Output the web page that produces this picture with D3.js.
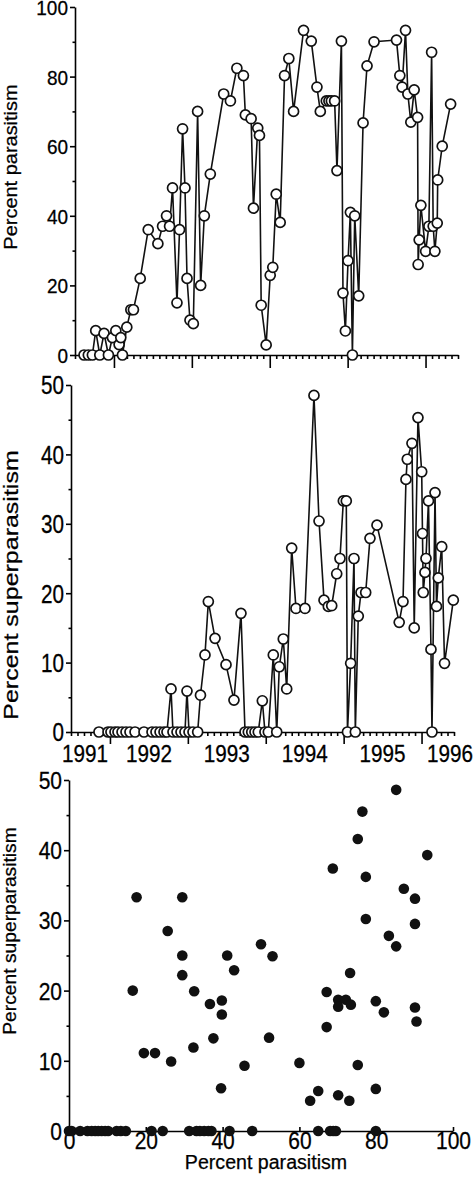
<!DOCTYPE html>
<html lang="en">
<head>
<meta charset="utf-8">
<title>Parasitism and superparasitism 1991-1996</title>
<script src="https://cdn.jsdelivr.net/npm/d3@7"></script>
<style>
	body { margin: 0; background: #fff; }
	svg { display: block; }
	svg text { stroke: #000; stroke-width: 0.25; }
	.trace { stroke: #111; stroke-width: 1.6; fill: none; }
	.ring { stroke: #111; stroke-width: 1.7; fill: #fff; }
	.dot { fill: #111; }
</style>
</head>
<body>
<svg id="fig" width="474" height="1191"></svg>
<script>

// sampling dates (decimal year) and percent parasitism, top panel
var parDate = [1991.616, 1991.671, 1991.723, 1991.766, 1991.818, 1991.873, 1991.929, 1991.98, 1992.024, 1992.066,
	1992.088, 1992.109, 1992.165, 1992.217, 1992.25, 1992.337, 1992.44, 1992.564, 1992.624, 1992.675,
	1992.714, 1992.752, 1992.809, 1992.842, 1992.881, 1992.912, 1992.938, 1992.976, 1993.019, 1993.074,
	1993.113, 1993.16, 1993.237, 1993.409, 1993.495, 1993.578, 1993.662, 1993.687, 1993.761, 1993.791,
	1993.846, 1993.868, 1993.89, 1993.954, 1994.006, 1994.039, 1994.083, 1994.134, 1994.19, 1994.245,
	1994.306, 1994.434, 1994.533, 1994.606, 1994.649, 1994.726, 1994.76, 1994.791, 1994.833, 1994.863,
	1994.92, 1994.94, 1994.971, 1995.005, 1995.035, 1995.061, 1995.091, 1995.142, 1995.198, 1995.249,
	1995.339, 1995.627, 1995.67, 1995.699, 1995.743, 1995.773, 1995.811, 1995.854, 1995.898, 1995.905,
	1995.918, 1995.94, 1996.001, 1996.043, 1996.078, 1996.098, 1996.12, 1996.15, 1996.156, 1996.214,
	1996.322]
var parPct = [0, 0, 0, 7, 0, 6.2, 0, 5, 7, 3,
	5, 0, 8, 13, 13, 22, 36, 32, 37, 40,
	37, 48, 15, 36, 65, 48, 22, 10, 9, 70,
	20, 40, 52, 75, 73, 82.4, 80.3, 69, 67.9, 42.2,
	65.2, 63.1, 14.3, 2.9, 22.9, 25.2, 46.2, 38.1, 80.3, 85.2,
	70, 93.3, 90.2, 77, 70, 73, 73, 73, 73, 53,
	90.2, 17.8, 6.9, 27.1, 41, 0, 40, 17, 66.7, 83.1,
	90, 90.5, 80.3, 77, 93.3, 75, 66.9, 76.2, 68.3, 26,
	33.1, 43, 29.8, 37, 87, 37, 29.8, 37.9, 50.3, 60,
	72.1]

// sampling dates and percent superparasitism, middle panel
var supDate = [1991.859, 1991.975, 1992.013, 1992.065, 1992.103, 1992.155, 1992.206, 1992.257, 1992.322, 1992.437,
	1992.54, 1992.591, 1992.643, 1992.694, 1992.732, 1992.784, 1992.809, 1992.861, 1992.912, 1992.963,
	1992.989, 1993.015, 1993.066, 1993.126, 1993.162, 1993.22, 1993.263, 1993.349, 1993.49, 1993.592,
	1993.682, 1993.734, 1993.776, 1993.82, 1993.862, 1993.904, 1993.956, 1993.99, 1994.033, 1994.097,
	1994.141, 1994.174, 1994.225, 1994.269, 1994.333, 1994.388, 1994.504, 1994.619, 1994.684, 1994.748,
	1994.803, 1994.847, 1994.911, 1994.953, 1994.996, 1995.034, 1995.049, 1995.09, 1995.133, 1995.15,
	1995.188, 1995.223, 1995.283, 1995.338, 1995.428, 1995.713, 1995.762, 1995.8, 1995.817, 1995.877,
	1995.906, 1995.954, 1996.002, 1996.012, 1996.022, 1996.044, 1996.057, 1996.089, 1996.121, 1996.134,
	1996.173, 1996.192, 1996.215, 1996.259, 1996.295, 1996.408]
var supPct = [0, 0, 0, 0, 0, 0, 0, 0, 0, 0,
	0, 0, 0, 0, 0, 6.2, 0, 0, 0, 0,
	5.9, 0, 0, 0, 5.3, 11.1, 18.8, 13.5, 9.7, 4.6,
	17.1, 0, 0, 0, 0, 0, 4.5, 0, 0, 11.1,
	0, 9.4, 13.4, 6.2, 26.5, 17.8, 17.8, 48.5, 30.4, 19,
	18.1, 18.2, 22.8, 25, 33.3, 33.3, 0, 9.9, 25, 0,
	16.7, 20.1, 20.1, 27.9, 29.8, 15.8, 18.8, 36.4, 39.3, 41.6,
	15, 45.3, 37.5, 28.6, 20.1, 23, 25, 33.3, 11.9, 0,
	34.5, 18.1, 22.2, 26.7, 9.9, 19]

// bottom panel: percent parasitism (x) against percent superparasitism (y)
var scatPar = [17.6, 16.6, 19.5, 22.4, 25.7, 26.6, 29.5, 29.5, 29.5, 32.6,
	32.4, 36.7, 37.6, 39.8, 39.8, 39.6, 41.2, 43, 45.7, 50,
	53, 52.1, 60, 62.8, 64.9, 67.1, 67.1, 68.7, 70.1, 70.1,
	70.1, 72.1, 73.4, 73.2, 73, 75.2, 75.2, 76.4, 77.3, 77.3,
	79.9, 79.9, 82, 83.3, 85.2, 85.2, 87.2, 90.1, 90.1, 90.1,
	90.5, 93.3,
	0, 0.7, 2.9, 4.8, 5.9, 6.8, 7.6, 8.5, 9.4, 10.2,
	12.4, 13.5, 14.8, 21.5, 24.4, 31.3, 33.2, 34.1, 35.2, 36.3,
	37.1, 41.8, 47.7, 64.9, 68, 68.8, 69.5, 79.9]
var scatSup = [33.3, 20, 11.1, 11.1, 28.5, 9.9, 33.3, 25, 22.2, 19.9,
	11.9, 18.1, 13.2, 18.6, 16.6, 6.1, 25, 22.9, 9.3, 26.6,
	24.9, 13.3, 9.7, 4.3, 5.7, 19.8, 14.8, 37.4, 5.1, 18.7,
	17.7, 18.7, 18, 22.5, 4.3, 9.4, 41.6, 45.5, 36.2, 30.2,
	18.5, 6, 16.9, 27.8, 26.3, 48.6, 34.5, 33.1, 29.5, 17.6,
	15.6, 39.3,
	0, 0, 0, 0, 0, 0, 0, 0, 0, 0,
	0, 0, 0, 0, 0, 0, 0, 0, 0, 0,
	0, 0, 0, 0, 0, 0, 0, 0]

var yearLabels = ["1991", "1992", "1993", "1994", "1995", "1996"]
var yearTicks = [1992, 1993, 1994, 1995, 1996]
var parTicks = [0, 20, 40, 60, 80, 100]
var parMinor = [10, 30, 50, 70, 90]
var supTicks = [0, 10, 20, 30, 40, 50]
var supMinor = [5, 15, 25, 35, 45]

var W = 474, H = 1191
var FONT = "'Liberation Sans', Arial, Helvetica, sans-serif"
var dateDomain = [1991.5, 1996 + 5 / 12]

var svg = d3.select("#fig")
svg.append("rect").attr("width", W).attr("height", H).attr("fill", "#fff")

//the three panels were scanned at slightly different offsets, so each has its own box
var P1 = {left: 75, right: 458, top: 7, bottom: 355}
var P2 = {left: 71, right: 454, top: 385, bottom: 732}
var P3 = {left: 69, right: 453, top: 780, bottom: 1131}

var x1 = d3.scaleLinear().domain(dateDomain).range([P1.left, P1.right])
var y1 = d3.scaleLinear().domain([0, 100]).range([P1.bottom, P1.top])
var x2 = d3.scaleLinear().domain(dateDomain).range([P2.left, P2.right])
var y2 = d3.scaleLinear().domain([0, 50]).range([P2.bottom, P2.top])
var x3 = d3.scaleLinear().domain([0, 100]).range([P3.left, P3.right])
var y3 = d3.scaleLinear().domain([0, 50]).range([P3.bottom, P3.top])

fixAxis = function(g, font) {
	g.attr("font-family", FONT).attr("font-size", font)
	g.selectAll("line, path").attr("stroke", "#000").attr("stroke-width", 1.6)
	g.selectAll("text").attr("fill", "#000")
}

//y axis with major labelled ticks and small unlabelled ones, labels stretched vertically like the scan
drawYAxis = function(p, y, majors, minors, font, sy) {
	var mg = svg.append("g").attr("transform", "translate(" + p.left + ",0)")
		.call(d3.axisLeft(y).tickValues(minors).tickSize(2.5).tickFormat(""))
	mg.select(".domain").remove()
	fixAxis(mg, font)
	var g = svg.append("g").attr("transform", "translate(" + p.left + ",0)")
		.call(d3.axisLeft(y).tickValues(majors).tickSize(5).tickSizeOuter(0).tickPadding(2))
	fixAxis(g, font)
	g.selectAll("text").attr("dy", "0.36em").attr("transform", "scale(1," + sy + ")")
}

//date axis: monthly minor ticks, long ticks at the start of each year
drawTimeAxis = function(p, x, majorLen) {
	var months = d3.range(6, 66).filter(function(m) { return m % 12 != 0 }).map(function(m) { return 1991 + m / 12 })
	var mg = svg.append("g").attr("transform", "translate(0," + p.bottom + ")")
		.call(d3.axisBottom(x).tickValues(months).tickSize(4).tickFormat(""))
	mg.select(".domain").remove()
	fixAxis(mg, 10)
	var g = svg.append("g").attr("transform", "translate(0," + p.bottom + ")")
		.call(d3.axisBottom(x).tickValues(yearTicks).tickSize(majorLen).tickSizeOuter(0).tickFormat(""))
	fixAxis(g, 10)
}

yTitle = function(txt, x, y, font, sx) {
	svg.append("text").attr("transform", "translate(" + x + "," + y + ") rotate(-90) scale(" + sx + ",1)")
		.attr("text-anchor", "middle").attr("font-family", FONT).attr("font-size", font)
		.attr("fill", "#000").text(txt)
}

drawSeries = function(x, y, dates, vals) {
	var pts = dates.map(function(d, i) { return {d: d, v: vals[i]} })
	var line = d3.line().x(function(p) { return x(p.d) }).y(function(p) { return y(p.v) })
	var g = svg.append("g")
	g.append("path").attr("class", "trace").attr("d", line(pts))
	g.selectAll("circle").data(pts).enter().append("circle").attr("class", "ring")
		.attr("cx", function(p) { return x(p.d) })
		.attr("cy", function(p) { return y(p.v) })
		.attr("r", 5)
}

// ---- top panel
drawTimeAxis(P1, x1, 13)
drawYAxis(P1, y1, parTicks, parMinor, 19, 1.1)
yTitle("Percent parasitism", 16.5, 167, 18, 1.11)
drawSeries(x1, y1, parDate, parPct)

// ---- middle panel
drawTimeAxis(P2, x2, 12)
drawYAxis(P2, y2, supTicks, supMinor, 20.7, 1.2)
yTitle("Percent superparasitism", 17.5, 585, 20, 1.25)
drawSeries(x2, y2, supDate, supPct)
svg.append("g").selectAll("text").data(yearLabels).enter().append("text")
	.attr("transform", function(d) {
		var cx = Math.max(85, Math.min(450, x2(+d + 0.5)))
		return "translate(" + cx + ",762) scale(1,1.15)"
	})
	.attr("text-anchor", "middle").attr("font-family", FONT).attr("font-size", 20.7)
	.attr("fill", "#000").text(function(d) { return d })

// ---- bottom panel
drawYAxis(P3, y3, supTicks, supMinor, 21, 1.13)
var bx = svg.append("g").attr("transform", "translate(0," + P3.bottom + ")")
	.call(d3.axisBottom(x3).tickValues(parTicks).tickSize(-4).tickSizeOuter(0).tickPadding(1))
fixAxis(bx, 21)
bx.selectAll("text").attr("transform", "scale(1,1.13)")
yTitle("Percent superparasitism", 16, 931, 18, 1.07)
svg.append("text").attr("x", 266).attr("y", 1169).attr("text-anchor", "middle")
	.attr("font-family", FONT).attr("font-size", 19.6).attr("fill", "#000").text("Percent parasitism")

svg.append("g").selectAll("circle").data(scatPar).enter().append("circle").attr("class", "dot")
	.attr("cx", function(d) { return x3(d) })
	.attr("cy", function(d, i) { return y3(scatSup[i]) })
	.attr("r", 5.3)

</script>
</body>
</html>
